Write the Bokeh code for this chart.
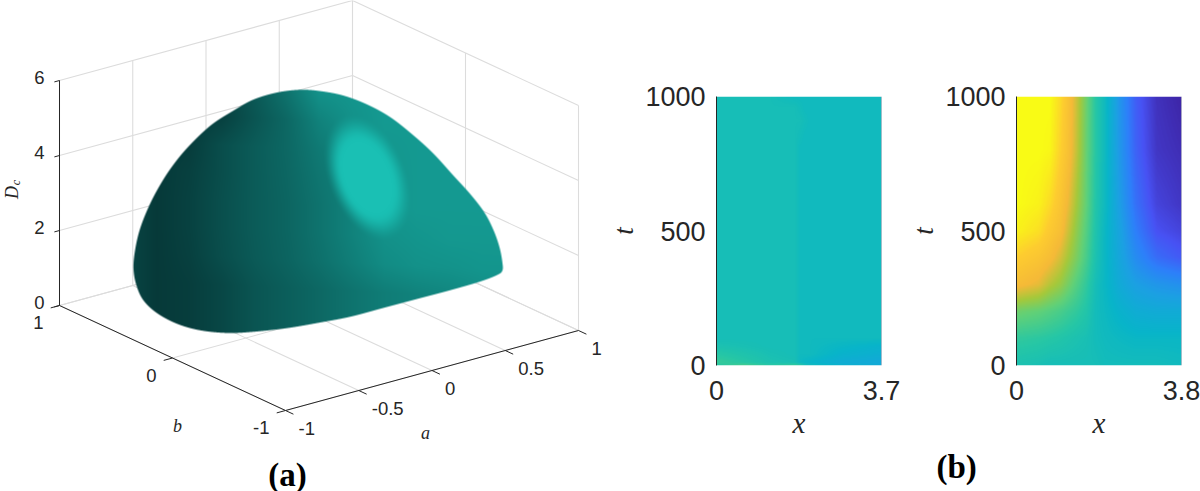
import numpy as np
from bokeh.core.properties import value
from bokeh.embed import file_html
from bokeh.layouts import row
from bokeh.models import FixedTicker, LinearColorMapper, Range1d, Span, Title
from bokeh.plotting import figure
from bokeh.resources import INLINE

# ---------- panel (a): dome outline (a, b, Dc) ----------
outline_a = [.103, .180, .269, .361, .450, .538, .615, .692, .758, .812, .847, .870, .881, .881,
             .840, .709, .529, .358, .183, .013, -.125, -.274, -.427, -.535, -.631, -.719,
             -.753, -.763, -.747, -.715, -.709, -.648, -.574, -.492, -.398, -.333, -.244, -.155, -.078, .014]
outline_b = [.297, .220, .131, .039, -.050, -.138, -.215, -.292, -.358, -.412, -.447, -.470, -.481, -.481,
             -.490, -.509, -.479, -.408, -.333, -.263, -.175, -.076, .027, .115, .231, .319,
             .453, .563, .647, .715, .709, .748, .774, .792, .798, .733, .644, .555, .478, .386]
outline_dc = [5.56, 5.55, 5.46, 5.25, 4.94, 4.49, 4.03, 3.47, 2.99, 2.52, 2.06, 1.61, 1.21, 1.00,
              .94, .93, .85, .70, .54, .39, .26, .13, .05, .01, .02, .16,
              .29, .49, .76, 1.08, 1.56, 1.98, 2.42, 2.84, 3.29, 3.87, 4.49, 4.92, 5.24, 5.46]

# brightness of the surface, on the vertical plane a + b = 0
shade_a = [-.75, -.625, -.5, -.375, -.25, -.125, 0, .125, .25, .375, .5, .625, .75]
shade_dc = [-.75, 0, .75, 1.5, 2.25, 3, 3.75, 4.5, 5.25, 6, 6.75]
shade = [
    [.12, .02, .05, .12, .22, .29, .36, .44, .51, .55, .58, .62, .62],
    [.12, .02, .05, .12, .22, .29, .36, .44, .51, .55, .58, .62, .62],
    [.12, .02, .05, .12, .22, .29, .36, .44, .51, .55, .58, .62, .62],
    [.12, .02, .07, .17, .26, .33, .42, .52, .62, .66, .67, .69, .69],
    [.12, .02, .08, .18, .27, .34, .44, .55, .66, .69, .71, .71, .71],
    [.12, .02, .08, .18, .27, .34, .44, .55, .68, .72, .72, .72, .72],
    [.10, .02, .07, .17, .27, .35, .46, .55, .68, .72, .72, .72, .72],
    [.08, .02, .04, .17, .27, .36, .49, .58, .70, .72, .72, .72, .72],
    [.08, .02, .04, .07, .22, .36, .55, .66, .72, .72, .72, .72, .72],
    [.08, .02, .04, .07, .25, .44, .66, .69, .72, .72, .72, .72, .72],
    [.08, .02, .04, .07, .25, .44, .66, .69, .72, .72, .72, .72, .72],
]
# the bright reflection on the surface
spot_a = .187
spot_dc = 3.81
spot_long_px = 54
spot_short_px = 32
spot_tilt = (.376, .927)

a_ticks = [-1, -.5, 0, .5, 1]
a_labels = ["-1", "-0.5", "0", "0.5", "1"]
b_ticks = [-1, 0, 1]
b_labels = ["-1", "0", "1"]
dc_ticks = [0, 2, 4, 6]
dc_labels = ["0", "2", "4", "6"]

# ---------- panel (b): parula position of the field ----------
left_x = [0, .6, 1.2, 1.75, 1.87, 1.98, 2.1, 2.8, 3.7]
left_t = [0, 10, 40, 70, 100, 800, 850, 910, 960, 1000]
left_field = [
    [.50, .55, .50, .52, .50, .45, .43, .38, .35],
    [.53, .50, .47, .46, .42, .41, .40, .36, .34],
    [.50, .48, .46, .45, .43, .43, .43, .39, .37],
    [.47, .46, .45, .45, .43, .43, .43, .41, .39],
    [.45, .45, .45, .45, .43, .43, .43, .43, .43],
    [.45, .45, .45, .45, .43, .43, .43, .43, .43],
    [.45, .45, .45, .45, .44, .43, .43, .43, .43],
    [.45, .45, .45, .45, .45, .44, .43, .43, .43],
    [.45, .45, .45, .45, .44, .43, .43, .43, .43],
    [.45, .45, .45, .43, .43, .43, .43, .43, .43],
]
right_x = [0, .5, .76, 1, 1.18, 1.37, 1.6, 1.82, 2.05, 2.36, 2.74, 3.23, 3.8]
right_t = [0, 100, 200, 300, 400, 500, 600, 800, 1000]
right_field = [
    [.47, .46, .45, .45, .45, .45, .45, .45, .44, .44, .44, .44, .43],
    [.52, .51, .50, .49, .48, .47, .46, .44, .43, .42, .41, .41, .41],
    [.62, .60, .58, .56, .54, .52, .49, .44, .42, .39, .36, .35, .35],
    [.82, .78, .72, .68, .63, .58, .52, .45, .41, .35, .30, .27, .25],
    [.90, .86, .82, .76, .70, .64, .56, .47, .41, .33, .24, .16, .12],
    [.98, .94, .88, .83, .75, .67, .58, .48, .41, .32, .20, .10, .07],
    [1.0, .98, .93, .86, .79, .70, .60, .49, .42, .30, .17, .07, .04],
    [1.0, 1.0, .99, .91, .84, .74, .61, .50, .42, .28, .14, .04, .02],
    [1.0, 1.0, 1.0, .93, .85, .75, .62, .50, .42, .27, .13, .03, .00],
]
parula_pos = [0, .1, .2, .3, .4, .5, .6, .7, .8, .9, 1]
parula_r = [62, 72, 45, 28, 8, 38, 97, 166, 245, 254, 249]
parula_g = [38, 82, 128, 161, 181, 199, 209, 201, 186, 205, 251]
parula_b = [168, 244, 250, 227, 201, 166, 120, 59, 56, 48, 21]

INK = "#262626"
SANS = value("Liberation Sans")
SERIF = value("Liberation Serif")
PAGE_H = 491


def project(a, b, z):
    a, b, z = np.asarray(a, float), np.asarray(b, float), np.asarray(z, float)
    px = 318.5 + 146.5 * a - 113.0 * b
    py = 317.5 - 40.0 * a - 52.5 * b - 37.5 * z
    return px, PAGE_H - py


def bilerp(xq, yq, xs, ys, table):
    ti = np.interp(xq, xs, np.arange(len(xs)))
    tj = np.interp(yq, ys, np.arange(len(ys)))
    t = np.asarray(table, float)
    i0 = np.clip(np.floor(ti).astype(int), 0, len(xs) - 2)
    j0 = np.clip(np.floor(tj).astype(int), 0, len(ys) - 2)
    fx, fy = ti - i0, tj - j0
    return (t[j0, i0] * (1 - fx) * (1 - fy) + t[j0, i0 + 1] * fx * (1 - fy)
            + t[j0 + 1, i0] * (1 - fx) * fy + t[j0 + 1, i0 + 1] * fx * fy)


def closed_spline(x, y, steps=10):
    x, y = np.asarray(x), np.asarray(y)
    u = np.linspace(0, 1, steps, endpoint=False)[:, None]
    out = []
    for pts in (x, y):
        p0, p1, p2, p3 = np.roll(pts, 1), pts, np.roll(pts, -1), np.roll(pts, -2)
        c = .5 * (2 * p1 + (p2 - p0) * u + (2 * p0 - 5 * p1 + 4 * p2 - p3) * u ** 2
                  + (3 * p1 - p0 - 3 * p2 + p3) * u ** 3)
        out.append(c.T.ravel())
    return out


def dome_image():
    ox, oy = project(outline_a, outline_b, outline_dc)
    sx, sy = closed_spline(ox, oy)
    x0, x1, y0, y1 = 120, 516, 150, 412
    w, h = x1 - x0, y1 - y0
    ss = 4
    cover = np.zeros((h, w))
    xe, ye = np.r_[sx, sx[0]], np.r_[sy, sy[0]]
    for r in range(h * ss):
        yy = y0 + (r + .5) / ss
        hit = (ye[:-1] <= yy) != (ye[1:] <= yy)
        xc = np.sort(xe[:-1][hit] + (yy - ye[:-1][hit]) * (xe[1:][hit] - xe[:-1][hit]) / (ye[1:][hit] - ye[:-1][hit]))
        for l, rr in zip(xc[::2], xc[1::2]):
            edges = np.clip(np.arange(w + 1) + x0, l, rr)
            cover[r // ss] += np.diff(edges) / ss
    gx, gy = np.meshgrid(np.arange(w) + x0 + .5, np.arange(h) + y0 + .5)
    pa = (gx - 318.5) / 259.5
    pz = (317.5 + 12.5 * pa - (PAGE_H - gy)) / 37.5
    t = bilerp(pa, pz, shade_a, shade_dc, shade)
    # bright reflection, as a soft tilted ellipse on top of the shading
    cx, cy = project(spot_a, -spot_a, spot_dc)
    dx, dy = gx - cx, -(gy - cy)
    along = dx * spot_tilt[0] + dy * spot_tilt[1]
    across = dx * spot_tilt[1] - dy * spot_tilt[0]
    r = np.hypot(along / spot_long_px, across / spot_short_px)
    u = np.clip((1.25 - r) / .55, 0, 1)
    t = t + (1 - t) * u * u * (3 - 2 * u)
    rgba = np.zeros((h, w, 4), dtype=np.uint8)
    rgba[..., 0] = 6 + 20 * t
    rgba[..., 1] = 55 + 137 * t
    rgba[..., 2] = 55 + 125 * t
    rgba[..., 3] = np.clip(cover, 0, 1) * 255
    packed = rgba.view(np.uint32).reshape(h, w)
    return packed, x0, y0, w, h


p = figure(width=602, height=491, x_range=Range1d(0, 602), y_range=Range1d(0, 491),
           output_backend="svg", toolbar_location=None, min_border=0, outline_line_color=None)
p.frame_align = False
p.axis.visible = False
p.grid.visible = False

gx0, gy0, gx1, gy1 = [], [], [], []
def seg(a0, b0, z0, a1, b1, z1):
    x0, y0 = project(a0, b0, z0)
    x1, y1 = project(a1, b1, z1)
    gx0.append(float(x0)); gy0.append(float(y0)); gx1.append(float(x1)); gy1.append(float(y1))

for v in a_ticks:
    seg(v, -1, 0, v, 1, 0)
    seg(v, 1, 0, v, 1, 6)
for v in b_ticks:
    seg(-1, v, 0, 1, v, 0)
    seg(1, v, 0, 1, v, 6)
for v in dc_ticks:
    seg(-1, 1, v, 1, 1, v)
    seg(1, 1, v, 1, -1, v)
p.segment(gx0, gy0, gx1, gy1, line_color="#dcdcdc", line_width=1.1)

img, ix, iy, iw, ih = dome_image()
p.image_rgba(image=[img], x=ix, y=iy, dw=iw, dh=ih)

# axes and ticks
ax0, ay0, ax1, ay1 = [], [], [], []
def aseg(a0, b0, z0, a1, b1, z1):
    x0, y0 = project(a0, b0, z0)
    x1, y1 = project(a1, b1, z1)
    ax0.append(float(x0)); ay0.append(float(y0)); ax1.append(float(x1)); ay1.append(float(y1))

aseg(-1, 1, 0, -1, 1, 6)
aseg(-1, 1, 0, -1, -1, 0)
aseg(-1, -1, 0, 1, -1, 0)
for v in a_ticks:
    aseg(v, -1, 0, v, -1.07, 0)
for v in b_ticks:
    aseg(-1, v, 0, -1.06, v, 0)
for v in dc_ticks:
    aseg(-1, 1, v, -1.035, 1, v)
p.segment(ax0, ay0, ax1, ay1, line_color=INK, line_width=1)

tx, ty = project(a_ticks, [-1] * 5, [0] * 5)
p.text(tx + 13, ty - 18, text=a_labels, text_font=SANS, text_font_size="18.5px", text_color=INK,
       text_align="left", text_baseline="middle")
tx, ty = project([-1] * 3, b_ticks, [0] * 3)
p.text(tx - 16, ty - 17, text=b_labels, text_font=SANS, text_font_size="18.5px", text_color=INK,
       text_align="right", text_baseline="middle")
tx, ty = project([-1] * 4, [1] * 4, dc_ticks)
p.text(tx - 15, ty + 3, text=dc_labels, text_font=SANS, text_font_size="18.5px", text_color=INK,
       text_align="right", text_baseline="middle")

def name(x, y, txt, size, angle=0.0):
    p.text([x], [PAGE_H - y], text=[txt], text_font=SERIF, text_font_style="italic", text_font_size=size,
           text_color=INK, text_align="center", text_baseline="middle", angle=angle)

name(177, 425, "b", "18px")
name(425, 432, "a", "18px")
name(11, 192, "D", "18px", np.pi / 2)
name(15, 182, "c", "12px", np.pi / 2)
p.text([287], [PAGE_H - 474], text=["(a)"], text_font=SERIF, text_font_style="bold", text_font_size="33px",
       text_color="#000000", text_align="center", text_baseline="middle")


def heat_panel(xs, ts, table, xmax, xtick_label, width, border_left):
    pos = np.linspace(0, 1, 256)
    pal = ["#%02x%02x%02x" % (int(r), int(g), int(b)) for r, g, b in
           zip(np.interp(pos, parula_pos, parula_r), np.interp(pos, parula_pos, parula_g),
               np.interp(pos, parula_pos, parula_b))]
    q = figure(width=width, height=491, x_range=Range1d(0, xmax), y_range=Range1d(0, 1000),
               output_backend="svg", toolbar_location=None, min_border_left=border_left, min_border_right=19,
               min_border_top=96, min_border_bottom=126, outline_line_color=None)
    q.frame_align = False
    q.grid.visible = False
    gx, gy = np.meshgrid(np.linspace(0, xmax, 330), np.linspace(0, 1000, 538))
    field = bilerp(gx, gy, xs, ts, table)
    q.image(image=[field], x=0, y=0, dw=xmax, dh=1000,
            color_mapper=LinearColorMapper(palette=pal, low=0, high=1))
    q.xaxis.ticker = FixedTicker(ticks=[0, xmax])
    q.xaxis.major_label_overrides = {0: "0", xmax: xtick_label}
    q.yaxis.ticker = FixedTicker(ticks=[0, 500, 1000])
    for ax in (q.xaxis[0], q.yaxis[0]):
        ax.major_tick_line_color = None
        ax.minor_tick_line_color = None
        ax.major_tick_out = 0
        ax.major_label_text_font = "Liberation Sans"
        ax.major_label_text_font_size = "27px"
        ax.major_label_text_color = INK
    q.xaxis.axis_line_color = None
    q.yaxis.axis_line_color = INK
    q.xaxis.major_label_standoff = 15
    q.yaxis.major_label_standoff = 11
    q.add_layout(Span(location=xmax, dimension="height", line_color="#555577", line_alpha=.6, line_width=1))
    q.add_layout(Title(text="x", align="center", text_font="Liberation Serif", text_font_style="italic",
                       text_font_size="29px", text_color=INK, standoff=5), "below")
    q.add_layout(Title(text="t", align="center", text_font="Liberation Serif", text_font_style="italic",
                       text_font_size="27px", text_color=INK, standoff=8), "left")
    return q


p2 = heat_panel(left_x, left_t, left_field, 3.7, "3.7", 298, 114)
p3 = heat_panel(right_x, right_t, right_field, 3.8, "3.8", 300, 116)
p3.add_layout(Title(text="(b)", align="left", offset=-80, text_font="Liberation Serif", text_font_style="bold",
                    text_font_size="33px", text_color="#000000", standoff=11), "below")

page = row(p, p2, p3, spacing=0)
open("out.html", "w").write(file_html(page, INLINE))
